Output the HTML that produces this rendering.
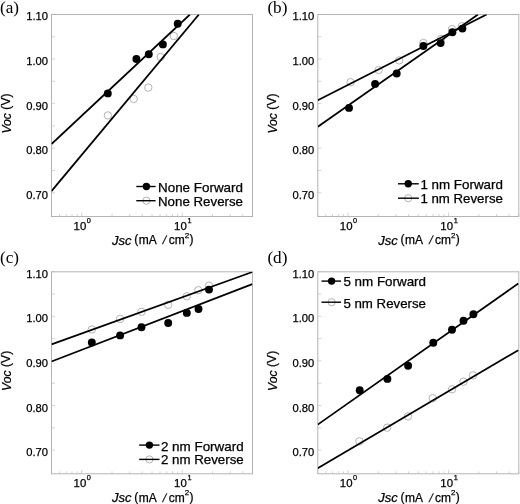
<!DOCTYPE html><html><head><meta charset="utf-8"><style>html,body{margin:0;padding:0;background:#fff;}svg{display:block;}</style></head><body>
<svg width="520" height="504" viewBox="0 0 520 504">
<rect width="520" height="504" fill="#fff"/>
<g transform="translate(0,0)">
<line x1="51.5" y1="192.8" x2="55" y2="192.8" stroke="#d4d4d4" stroke-width="1"/>
<line x1="51.5" y1="170.5" x2="55" y2="170.5" stroke="#d4d4d4" stroke-width="1"/>
<line x1="51.5" y1="148.2" x2="55" y2="148.2" stroke="#d4d4d4" stroke-width="1"/>
<line x1="51.5" y1="125.9" x2="55" y2="125.9" stroke="#d4d4d4" stroke-width="1"/>
<line x1="51.5" y1="103.6" x2="55" y2="103.6" stroke="#d4d4d4" stroke-width="1"/>
<line x1="51.5" y1="81.3" x2="55" y2="81.3" stroke="#d4d4d4" stroke-width="1"/>
<line x1="51.5" y1="59" x2="55" y2="59" stroke="#d4d4d4" stroke-width="1"/>
<line x1="51.5" y1="36.7" x2="55" y2="36.7" stroke="#d4d4d4" stroke-width="1"/>
<line x1="51.5" y1="14.4" x2="55" y2="14.4" stroke="#d4d4d4" stroke-width="1"/>
<line x1="51.5" y1="216.5" x2="51.5" y2="214" stroke="#d4d4d4" stroke-width="1"/>
<line x1="59.46" y1="216.5" x2="59.46" y2="214" stroke="#d4d4d4" stroke-width="1"/>
<line x1="66.19" y1="216.5" x2="66.19" y2="214" stroke="#d4d4d4" stroke-width="1"/>
<line x1="72.01" y1="216.5" x2="72.01" y2="214" stroke="#d4d4d4" stroke-width="1"/>
<line x1="77.15" y1="216.5" x2="77.15" y2="214" stroke="#d4d4d4" stroke-width="1"/>
<line x1="81.75" y1="216.5" x2="81.75" y2="212.5" stroke="#d4d4d4" stroke-width="1"/>
<line x1="112.01" y1="216.5" x2="112.01" y2="214" stroke="#d4d4d4" stroke-width="1"/>
<line x1="129.7" y1="216.5" x2="129.7" y2="214" stroke="#d4d4d4" stroke-width="1"/>
<line x1="142.26" y1="216.5" x2="142.26" y2="214" stroke="#d4d4d4" stroke-width="1"/>
<line x1="152" y1="216.5" x2="152" y2="214" stroke="#d4d4d4" stroke-width="1"/>
<line x1="159.96" y1="216.5" x2="159.96" y2="214" stroke="#d4d4d4" stroke-width="1"/>
<line x1="166.69" y1="216.5" x2="166.69" y2="214" stroke="#d4d4d4" stroke-width="1"/>
<line x1="172.51" y1="216.5" x2="172.51" y2="214" stroke="#d4d4d4" stroke-width="1"/>
<line x1="177.65" y1="216.5" x2="177.65" y2="214" stroke="#d4d4d4" stroke-width="1"/>
<line x1="182.25" y1="216.5" x2="182.25" y2="212.5" stroke="#d4d4d4" stroke-width="1"/>
<line x1="212.51" y1="216.5" x2="212.51" y2="214" stroke="#d4d4d4" stroke-width="1"/>
<line x1="230.2" y1="216.5" x2="230.2" y2="214" stroke="#d4d4d4" stroke-width="1"/>
<line x1="242.76" y1="216.5" x2="242.76" y2="214" stroke="#d4d4d4" stroke-width="1"/>
<line x1="252.5" y1="216.5" x2="252.5" y2="214" stroke="#d4d4d4" stroke-width="1"/>
<rect x="51.5" y="14.5" width="201" height="202" fill="none" stroke="#b4b4b4" stroke-width="1"/>
<text x="26.2" y="20.45" font-family="Liberation Sans, Arial, sans-serif" font-size="11.6" textLength="21.8" lengthAdjust="spacingAndGlyphs" fill="#000" stroke="#000" stroke-width="0.25">1.10</text>
<text x="26.2" y="65.05" font-family="Liberation Sans, Arial, sans-serif" font-size="11.6" textLength="21.8" lengthAdjust="spacingAndGlyphs" fill="#000" stroke="#000" stroke-width="0.25">1.00</text>
<text x="26.2" y="109.65" font-family="Liberation Sans, Arial, sans-serif" font-size="11.6" textLength="21.8" lengthAdjust="spacingAndGlyphs" fill="#000" stroke="#000" stroke-width="0.25">0.90</text>
<text x="26.2" y="154.25" font-family="Liberation Sans, Arial, sans-serif" font-size="11.6" textLength="21.8" lengthAdjust="spacingAndGlyphs" fill="#000" stroke="#000" stroke-width="0.25">0.80</text>
<text x="26.2" y="198.85" font-family="Liberation Sans, Arial, sans-serif" font-size="11.6" textLength="21.8" lengthAdjust="spacingAndGlyphs" fill="#000" stroke="#000" stroke-width="0.25">0.70</text>
<text x="73.55" y="229.7" font-family="Liberation Sans, Arial, sans-serif" font-size="11.4" fill="#000" stroke="#000" stroke-width="0.25">10</text>
<text x="86.75" y="223.0" font-family="Liberation Sans, Arial, sans-serif" font-size="7.3" fill="#000" stroke="#000" stroke-width="0.25">0</text>
<text x="174.05" y="229.7" font-family="Liberation Sans, Arial, sans-serif" font-size="11.4" fill="#000" stroke="#000" stroke-width="0.25">10</text>
<text x="187.45" y="223.0" font-family="Liberation Sans, Arial, sans-serif" font-size="7.3" fill="#000" stroke="#000" stroke-width="0.25">1</text>
<text x="111.9" y="244.5" font-family="Liberation Sans, Arial, sans-serif" font-size="12" font-style="italic" textLength="19.5" lengthAdjust="spacingAndGlyphs" fill="#000" stroke="#000" stroke-width="0.25">Jsc</text>
<text x="134.3" y="243.3" font-family="Liberation Sans, Arial, sans-serif" font-size="12" fill="#000" stroke="#000" stroke-width="0.25">(</text>
<text x="138.8" y="244.4" font-family="Liberation Sans, Arial, sans-serif" font-size="12" fill="#000" stroke="#000" stroke-width="0.25">mA</text>
<text transform="translate(162.1,244.4) skewX(-13)" font-family="Liberation Sans, Arial, sans-serif" font-size="12" fill="#000" stroke="#000" stroke-width="0.1">/</text>
<text x="168.7" y="244.4" font-family="Liberation Sans, Arial, sans-serif" font-size="12" fill="#000" stroke="#000" stroke-width="0.25">cm</text>
<text x="184.7" y="238" font-family="Liberation Sans, Arial, sans-serif" font-size="8" fill="#000" stroke="#000" stroke-width="0.25">2</text>
<text x="189.5" y="243.3" font-family="Liberation Sans, Arial, sans-serif" font-size="12" fill="#000" stroke="#000" stroke-width="0.25">)</text>
<text transform="translate(10.8,133.6) rotate(-90)" font-family="Liberation Sans, Arial, sans-serif" font-size="12.2" fill="#000" stroke="#000" stroke-width="0.25"><tspan font-style="italic">Voc</tspan> <tspan dy="-1.1">(V)</tspan></text>
</g>
<text x="0" y="12.5" font-family="Liberation Serif, Times New Roman, serif" font-size="17.2" fill="#000">(a)</text>
<clipPath id="clipa"><rect x="51.5" y="14.5" width="201" height="202"/></clipPath>
<g clip-path="url(#clipa)">
<circle cx="107.9" cy="115.4" r="3.7" fill="none" stroke="#b4b4b4" stroke-width="1"/>
<circle cx="133.7" cy="98.9" r="3.7" fill="none" stroke="#b4b4b4" stroke-width="1"/>
<circle cx="148.3" cy="87.6" r="3.7" fill="none" stroke="#b4b4b4" stroke-width="1"/>
<circle cx="160.7" cy="57" r="3.7" fill="none" stroke="#b4b4b4" stroke-width="1"/>
<circle cx="173.8" cy="36" r="3.7" fill="none" stroke="#b4b4b4" stroke-width="1"/>
<line x1="51.5" y1="144.1" x2="189.9" y2="14.5" stroke="#000" stroke-width="1.75"/>
<line x1="51.5" y1="191.1" x2="198.9" y2="14.5" stroke="#000" stroke-width="1.75"/>
<circle cx="107.8" cy="93.4" r="3.95" fill="#000"/>
<circle cx="136.4" cy="59" r="3.95" fill="#000"/>
<circle cx="148.8" cy="54.3" r="3.95" fill="#000"/>
<circle cx="162.9" cy="44.4" r="3.95" fill="#000"/>
<circle cx="177.7" cy="23.7" r="3.95" fill="#000"/>
</g>
<line x1="136.3" y1="186.5" x2="155.6" y2="186.5" stroke="#000" stroke-width="1.4"/>
<circle cx="146.4" cy="186.5" r="3.7" fill="#000"/>
<circle cx="146.4" cy="200.7" r="3.6" fill="none" stroke="#b4b4b4" stroke-width="1"/>
<line x1="136.3" y1="200.7" x2="155.6" y2="200.7" stroke="#000" stroke-width="1.4"/>
<text x="158" y="191.8" font-family="Liberation Sans, Arial, sans-serif" font-size="12.4" textLength="85" lengthAdjust="spacingAndGlyphs" fill="#000" stroke="#000" stroke-width="0.25">None Forward</text>
<text x="158" y="206.1" font-family="Liberation Sans, Arial, sans-serif" font-size="12.4" textLength="85" lengthAdjust="spacingAndGlyphs" fill="#000" stroke="#000" stroke-width="0.25">None Reverse</text>
<g transform="translate(266.3,0)">
<line x1="51.5" y1="192.8" x2="55" y2="192.8" stroke="#d4d4d4" stroke-width="1"/>
<line x1="51.5" y1="170.5" x2="55" y2="170.5" stroke="#d4d4d4" stroke-width="1"/>
<line x1="51.5" y1="148.2" x2="55" y2="148.2" stroke="#d4d4d4" stroke-width="1"/>
<line x1="51.5" y1="125.9" x2="55" y2="125.9" stroke="#d4d4d4" stroke-width="1"/>
<line x1="51.5" y1="103.6" x2="55" y2="103.6" stroke="#d4d4d4" stroke-width="1"/>
<line x1="51.5" y1="81.3" x2="55" y2="81.3" stroke="#d4d4d4" stroke-width="1"/>
<line x1="51.5" y1="59" x2="55" y2="59" stroke="#d4d4d4" stroke-width="1"/>
<line x1="51.5" y1="36.7" x2="55" y2="36.7" stroke="#d4d4d4" stroke-width="1"/>
<line x1="51.5" y1="14.4" x2="55" y2="14.4" stroke="#d4d4d4" stroke-width="1"/>
<line x1="51.5" y1="216.5" x2="51.5" y2="214" stroke="#d4d4d4" stroke-width="1"/>
<line x1="59.46" y1="216.5" x2="59.46" y2="214" stroke="#d4d4d4" stroke-width="1"/>
<line x1="66.19" y1="216.5" x2="66.19" y2="214" stroke="#d4d4d4" stroke-width="1"/>
<line x1="72.01" y1="216.5" x2="72.01" y2="214" stroke="#d4d4d4" stroke-width="1"/>
<line x1="77.15" y1="216.5" x2="77.15" y2="214" stroke="#d4d4d4" stroke-width="1"/>
<line x1="81.75" y1="216.5" x2="81.75" y2="212.5" stroke="#d4d4d4" stroke-width="1"/>
<line x1="112.01" y1="216.5" x2="112.01" y2="214" stroke="#d4d4d4" stroke-width="1"/>
<line x1="129.7" y1="216.5" x2="129.7" y2="214" stroke="#d4d4d4" stroke-width="1"/>
<line x1="142.26" y1="216.5" x2="142.26" y2="214" stroke="#d4d4d4" stroke-width="1"/>
<line x1="152" y1="216.5" x2="152" y2="214" stroke="#d4d4d4" stroke-width="1"/>
<line x1="159.96" y1="216.5" x2="159.96" y2="214" stroke="#d4d4d4" stroke-width="1"/>
<line x1="166.69" y1="216.5" x2="166.69" y2="214" stroke="#d4d4d4" stroke-width="1"/>
<line x1="172.51" y1="216.5" x2="172.51" y2="214" stroke="#d4d4d4" stroke-width="1"/>
<line x1="177.65" y1="216.5" x2="177.65" y2="214" stroke="#d4d4d4" stroke-width="1"/>
<line x1="182.25" y1="216.5" x2="182.25" y2="212.5" stroke="#d4d4d4" stroke-width="1"/>
<line x1="212.51" y1="216.5" x2="212.51" y2="214" stroke="#d4d4d4" stroke-width="1"/>
<line x1="230.2" y1="216.5" x2="230.2" y2="214" stroke="#d4d4d4" stroke-width="1"/>
<line x1="242.76" y1="216.5" x2="242.76" y2="214" stroke="#d4d4d4" stroke-width="1"/>
<line x1="252.5" y1="216.5" x2="252.5" y2="214" stroke="#d4d4d4" stroke-width="1"/>
<rect x="51.5" y="14.5" width="201" height="202" fill="none" stroke="#b4b4b4" stroke-width="1"/>
<text x="26.2" y="20.45" font-family="Liberation Sans, Arial, sans-serif" font-size="11.6" textLength="21.8" lengthAdjust="spacingAndGlyphs" fill="#000" stroke="#000" stroke-width="0.25">1.10</text>
<text x="26.2" y="65.05" font-family="Liberation Sans, Arial, sans-serif" font-size="11.6" textLength="21.8" lengthAdjust="spacingAndGlyphs" fill="#000" stroke="#000" stroke-width="0.25">1.00</text>
<text x="26.2" y="109.65" font-family="Liberation Sans, Arial, sans-serif" font-size="11.6" textLength="21.8" lengthAdjust="spacingAndGlyphs" fill="#000" stroke="#000" stroke-width="0.25">0.90</text>
<text x="26.2" y="154.25" font-family="Liberation Sans, Arial, sans-serif" font-size="11.6" textLength="21.8" lengthAdjust="spacingAndGlyphs" fill="#000" stroke="#000" stroke-width="0.25">0.80</text>
<text x="26.2" y="198.85" font-family="Liberation Sans, Arial, sans-serif" font-size="11.6" textLength="21.8" lengthAdjust="spacingAndGlyphs" fill="#000" stroke="#000" stroke-width="0.25">0.70</text>
<text x="73.55" y="229.7" font-family="Liberation Sans, Arial, sans-serif" font-size="11.4" fill="#000" stroke="#000" stroke-width="0.25">10</text>
<text x="86.75" y="223.0" font-family="Liberation Sans, Arial, sans-serif" font-size="7.3" fill="#000" stroke="#000" stroke-width="0.25">0</text>
<text x="174.05" y="229.7" font-family="Liberation Sans, Arial, sans-serif" font-size="11.4" fill="#000" stroke="#000" stroke-width="0.25">10</text>
<text x="187.45" y="223.0" font-family="Liberation Sans, Arial, sans-serif" font-size="7.3" fill="#000" stroke="#000" stroke-width="0.25">1</text>
<text x="111.9" y="244.5" font-family="Liberation Sans, Arial, sans-serif" font-size="12" font-style="italic" textLength="19.5" lengthAdjust="spacingAndGlyphs" fill="#000" stroke="#000" stroke-width="0.25">Jsc</text>
<text x="134.3" y="243.3" font-family="Liberation Sans, Arial, sans-serif" font-size="12" fill="#000" stroke="#000" stroke-width="0.25">(</text>
<text x="138.8" y="244.4" font-family="Liberation Sans, Arial, sans-serif" font-size="12" fill="#000" stroke="#000" stroke-width="0.25">mA</text>
<text transform="translate(162.1,244.4) skewX(-13)" font-family="Liberation Sans, Arial, sans-serif" font-size="12" fill="#000" stroke="#000" stroke-width="0.1">/</text>
<text x="168.7" y="244.4" font-family="Liberation Sans, Arial, sans-serif" font-size="12" fill="#000" stroke="#000" stroke-width="0.25">cm</text>
<text x="184.7" y="238" font-family="Liberation Sans, Arial, sans-serif" font-size="8" fill="#000" stroke="#000" stroke-width="0.25">2</text>
<text x="189.5" y="243.3" font-family="Liberation Sans, Arial, sans-serif" font-size="12" fill="#000" stroke="#000" stroke-width="0.25">)</text>
<text transform="translate(10.8,133.6) rotate(-90)" font-family="Liberation Sans, Arial, sans-serif" font-size="12.2" fill="#000" stroke="#000" stroke-width="0.25"><tspan font-style="italic">Voc</tspan> <tspan dy="-1.1">(V)</tspan></text>
</g>
<text x="267.4" y="12.5" font-family="Liberation Serif, Times New Roman, serif" font-size="17.2" fill="#000">(b)</text>
<clipPath id="clipb"><rect x="317.8" y="14.5" width="201" height="202"/></clipPath>
<g clip-path="url(#clipb)">
<circle cx="350.6" cy="82.2" r="3.7" fill="none" stroke="#b4b4b4" stroke-width="1"/>
<circle cx="378.6" cy="70" r="3.7" fill="none" stroke="#b4b4b4" stroke-width="1"/>
<circle cx="399.2" cy="60.4" r="3.7" fill="none" stroke="#b4b4b4" stroke-width="1"/>
<circle cx="423.4" cy="43" r="3.7" fill="none" stroke="#b4b4b4" stroke-width="1"/>
<circle cx="441" cy="39" r="3.7" fill="none" stroke="#b4b4b4" stroke-width="1"/>
<circle cx="452" cy="29.1" r="3.7" fill="none" stroke="#b4b4b4" stroke-width="1"/>
<circle cx="461.8" cy="26.2" r="3.7" fill="none" stroke="#b4b4b4" stroke-width="1"/>
<line x1="317.8" y1="126.8" x2="478" y2="14.5" stroke="#000" stroke-width="1.75"/>
<line x1="317.8" y1="100.2" x2="486.6" y2="14.5" stroke="#000" stroke-width="1.75"/>
<circle cx="349" cy="107.9" r="3.95" fill="#000"/>
<circle cx="375.1" cy="83.9" r="3.95" fill="#000"/>
<circle cx="396.7" cy="73.5" r="3.95" fill="#000"/>
<circle cx="423.4" cy="46" r="3.95" fill="#000"/>
<circle cx="440.6" cy="43.1" r="3.95" fill="#000"/>
<circle cx="452.4" cy="32.2" r="3.95" fill="#000"/>
<circle cx="462.4" cy="28.6" r="3.95" fill="#000"/>
</g>
<line x1="398" y1="183.8" x2="418.8" y2="183.8" stroke="#000" stroke-width="1.4"/>
<circle cx="408.2" cy="183.8" r="3.7" fill="#000"/>
<circle cx="408.2" cy="198.2" r="3.6" fill="none" stroke="#b4b4b4" stroke-width="1"/>
<line x1="398" y1="198.2" x2="418.8" y2="198.2" stroke="#000" stroke-width="1.4"/>
<text x="420.4" y="189.3" font-family="Liberation Sans, Arial, sans-serif" font-size="12.4" textLength="82.5" lengthAdjust="spacingAndGlyphs" fill="#000" stroke="#000" stroke-width="0.25">1 nm Forward</text>
<text x="420.4" y="202.7" font-family="Liberation Sans, Arial, sans-serif" font-size="12.4" textLength="82.5" lengthAdjust="spacingAndGlyphs" fill="#000" stroke="#000" stroke-width="0.25">1 nm Reverse</text>
<g transform="translate(0,257.3)">
<line x1="51.5" y1="192.8" x2="55" y2="192.8" stroke="#d4d4d4" stroke-width="1"/>
<line x1="51.5" y1="170.5" x2="55" y2="170.5" stroke="#d4d4d4" stroke-width="1"/>
<line x1="51.5" y1="148.2" x2="55" y2="148.2" stroke="#d4d4d4" stroke-width="1"/>
<line x1="51.5" y1="125.9" x2="55" y2="125.9" stroke="#d4d4d4" stroke-width="1"/>
<line x1="51.5" y1="103.6" x2="55" y2="103.6" stroke="#d4d4d4" stroke-width="1"/>
<line x1="51.5" y1="81.3" x2="55" y2="81.3" stroke="#d4d4d4" stroke-width="1"/>
<line x1="51.5" y1="59" x2="55" y2="59" stroke="#d4d4d4" stroke-width="1"/>
<line x1="51.5" y1="36.7" x2="55" y2="36.7" stroke="#d4d4d4" stroke-width="1"/>
<line x1="51.5" y1="14.4" x2="55" y2="14.4" stroke="#d4d4d4" stroke-width="1"/>
<line x1="51.5" y1="216.5" x2="51.5" y2="214" stroke="#d4d4d4" stroke-width="1"/>
<line x1="59.46" y1="216.5" x2="59.46" y2="214" stroke="#d4d4d4" stroke-width="1"/>
<line x1="66.19" y1="216.5" x2="66.19" y2="214" stroke="#d4d4d4" stroke-width="1"/>
<line x1="72.01" y1="216.5" x2="72.01" y2="214" stroke="#d4d4d4" stroke-width="1"/>
<line x1="77.15" y1="216.5" x2="77.15" y2="214" stroke="#d4d4d4" stroke-width="1"/>
<line x1="81.75" y1="216.5" x2="81.75" y2="212.5" stroke="#d4d4d4" stroke-width="1"/>
<line x1="112.01" y1="216.5" x2="112.01" y2="214" stroke="#d4d4d4" stroke-width="1"/>
<line x1="129.7" y1="216.5" x2="129.7" y2="214" stroke="#d4d4d4" stroke-width="1"/>
<line x1="142.26" y1="216.5" x2="142.26" y2="214" stroke="#d4d4d4" stroke-width="1"/>
<line x1="152" y1="216.5" x2="152" y2="214" stroke="#d4d4d4" stroke-width="1"/>
<line x1="159.96" y1="216.5" x2="159.96" y2="214" stroke="#d4d4d4" stroke-width="1"/>
<line x1="166.69" y1="216.5" x2="166.69" y2="214" stroke="#d4d4d4" stroke-width="1"/>
<line x1="172.51" y1="216.5" x2="172.51" y2="214" stroke="#d4d4d4" stroke-width="1"/>
<line x1="177.65" y1="216.5" x2="177.65" y2="214" stroke="#d4d4d4" stroke-width="1"/>
<line x1="182.25" y1="216.5" x2="182.25" y2="212.5" stroke="#d4d4d4" stroke-width="1"/>
<line x1="212.51" y1="216.5" x2="212.51" y2="214" stroke="#d4d4d4" stroke-width="1"/>
<line x1="230.2" y1="216.5" x2="230.2" y2="214" stroke="#d4d4d4" stroke-width="1"/>
<line x1="242.76" y1="216.5" x2="242.76" y2="214" stroke="#d4d4d4" stroke-width="1"/>
<line x1="252.5" y1="216.5" x2="252.5" y2="214" stroke="#d4d4d4" stroke-width="1"/>
<rect x="51.5" y="14.5" width="201" height="202" fill="none" stroke="#b4b4b4" stroke-width="1"/>
<text x="26.2" y="20.45" font-family="Liberation Sans, Arial, sans-serif" font-size="11.6" textLength="21.8" lengthAdjust="spacingAndGlyphs" fill="#000" stroke="#000" stroke-width="0.25">1.10</text>
<text x="26.2" y="65.05" font-family="Liberation Sans, Arial, sans-serif" font-size="11.6" textLength="21.8" lengthAdjust="spacingAndGlyphs" fill="#000" stroke="#000" stroke-width="0.25">1.00</text>
<text x="26.2" y="109.65" font-family="Liberation Sans, Arial, sans-serif" font-size="11.6" textLength="21.8" lengthAdjust="spacingAndGlyphs" fill="#000" stroke="#000" stroke-width="0.25">0.90</text>
<text x="26.2" y="154.25" font-family="Liberation Sans, Arial, sans-serif" font-size="11.6" textLength="21.8" lengthAdjust="spacingAndGlyphs" fill="#000" stroke="#000" stroke-width="0.25">0.80</text>
<text x="26.2" y="198.85" font-family="Liberation Sans, Arial, sans-serif" font-size="11.6" textLength="21.8" lengthAdjust="spacingAndGlyphs" fill="#000" stroke="#000" stroke-width="0.25">0.70</text>
<text x="73.55" y="229.7" font-family="Liberation Sans, Arial, sans-serif" font-size="11.4" fill="#000" stroke="#000" stroke-width="0.25">10</text>
<text x="86.75" y="223.0" font-family="Liberation Sans, Arial, sans-serif" font-size="7.3" fill="#000" stroke="#000" stroke-width="0.25">0</text>
<text x="174.05" y="229.7" font-family="Liberation Sans, Arial, sans-serif" font-size="11.4" fill="#000" stroke="#000" stroke-width="0.25">10</text>
<text x="187.45" y="223.0" font-family="Liberation Sans, Arial, sans-serif" font-size="7.3" fill="#000" stroke="#000" stroke-width="0.25">1</text>
<text x="111.9" y="244.5" font-family="Liberation Sans, Arial, sans-serif" font-size="12" font-style="italic" textLength="19.5" lengthAdjust="spacingAndGlyphs" fill="#000" stroke="#000" stroke-width="0.25">Jsc</text>
<text x="134.3" y="243.3" font-family="Liberation Sans, Arial, sans-serif" font-size="12" fill="#000" stroke="#000" stroke-width="0.25">(</text>
<text x="138.8" y="244.4" font-family="Liberation Sans, Arial, sans-serif" font-size="12" fill="#000" stroke="#000" stroke-width="0.25">mA</text>
<text transform="translate(162.1,244.4) skewX(-13)" font-family="Liberation Sans, Arial, sans-serif" font-size="12" fill="#000" stroke="#000" stroke-width="0.1">/</text>
<text x="168.7" y="244.4" font-family="Liberation Sans, Arial, sans-serif" font-size="12" fill="#000" stroke="#000" stroke-width="0.25">cm</text>
<text x="184.7" y="238" font-family="Liberation Sans, Arial, sans-serif" font-size="8" fill="#000" stroke="#000" stroke-width="0.25">2</text>
<text x="189.5" y="243.3" font-family="Liberation Sans, Arial, sans-serif" font-size="12" fill="#000" stroke="#000" stroke-width="0.25">)</text>
<text transform="translate(10.8,133.6) rotate(-90)" font-family="Liberation Sans, Arial, sans-serif" font-size="12.2" fill="#000" stroke="#000" stroke-width="0.25"><tspan font-style="italic">Voc</tspan> <tspan dy="-1.1">(V)</tspan></text>
</g>
<text x="0" y="263.1" font-family="Liberation Serif, Times New Roman, serif" font-size="17.2" fill="#000">(c)</text>
<clipPath id="clipc"><rect x="51.5" y="271.8" width="201" height="202"/></clipPath>
<g clip-path="url(#clipc)">
<circle cx="91.8" cy="329.5" r="3.7" fill="none" stroke="#b4b4b4" stroke-width="1"/>
<circle cx="120.1" cy="318.9" r="3.7" fill="none" stroke="#b4b4b4" stroke-width="1"/>
<circle cx="141.5" cy="311.8" r="3.7" fill="none" stroke="#b4b4b4" stroke-width="1"/>
<circle cx="168.2" cy="304.8" r="3.7" fill="none" stroke="#b4b4b4" stroke-width="1"/>
<circle cx="186.8" cy="296.3" r="3.7" fill="none" stroke="#b4b4b4" stroke-width="1"/>
<circle cx="198.3" cy="290.2" r="3.7" fill="none" stroke="#b4b4b4" stroke-width="1"/>
<circle cx="209" cy="285.6" r="3.7" fill="none" stroke="#b4b4b4" stroke-width="1"/>
<line x1="51.5" y1="344.4" x2="252.3" y2="272" stroke="#000" stroke-width="1.75"/>
<line x1="51.5" y1="361.5" x2="252.3" y2="284.1" stroke="#000" stroke-width="1.75"/>
<circle cx="91.8" cy="342.4" r="3.95" fill="#000"/>
<circle cx="120.1" cy="335.4" r="3.95" fill="#000"/>
<circle cx="141.5" cy="327.2" r="3.95" fill="#000"/>
<circle cx="168.2" cy="323" r="3.95" fill="#000"/>
<circle cx="186.8" cy="312.9" r="3.95" fill="#000"/>
<circle cx="198.5" cy="309" r="3.95" fill="#000"/>
<circle cx="209" cy="289.6" r="3.95" fill="#000"/>
</g>
<line x1="139.2" y1="445.1" x2="159.5" y2="445.1" stroke="#000" stroke-width="1.4"/>
<circle cx="149.4" cy="445.1" r="3.7" fill="#000"/>
<circle cx="149.4" cy="459.4" r="3.6" fill="none" stroke="#b4b4b4" stroke-width="1"/>
<line x1="139.2" y1="459.4" x2="159.5" y2="459.4" stroke="#000" stroke-width="1.4"/>
<text x="160.9" y="450.8" font-family="Liberation Sans, Arial, sans-serif" font-size="12.4" textLength="82.8" lengthAdjust="spacingAndGlyphs" fill="#000" stroke="#000" stroke-width="0.25">2 nm Forward</text>
<text x="160.9" y="464.4" font-family="Liberation Sans, Arial, sans-serif" font-size="12.4" textLength="82.8" lengthAdjust="spacingAndGlyphs" fill="#000" stroke="#000" stroke-width="0.25">2 nm Reverse</text>
<g transform="translate(266.3,257.3)">
<line x1="51.5" y1="192.8" x2="55" y2="192.8" stroke="#d4d4d4" stroke-width="1"/>
<line x1="51.5" y1="170.5" x2="55" y2="170.5" stroke="#d4d4d4" stroke-width="1"/>
<line x1="51.5" y1="148.2" x2="55" y2="148.2" stroke="#d4d4d4" stroke-width="1"/>
<line x1="51.5" y1="125.9" x2="55" y2="125.9" stroke="#d4d4d4" stroke-width="1"/>
<line x1="51.5" y1="103.6" x2="55" y2="103.6" stroke="#d4d4d4" stroke-width="1"/>
<line x1="51.5" y1="81.3" x2="55" y2="81.3" stroke="#d4d4d4" stroke-width="1"/>
<line x1="51.5" y1="59" x2="55" y2="59" stroke="#d4d4d4" stroke-width="1"/>
<line x1="51.5" y1="36.7" x2="55" y2="36.7" stroke="#d4d4d4" stroke-width="1"/>
<line x1="51.5" y1="14.4" x2="55" y2="14.4" stroke="#d4d4d4" stroke-width="1"/>
<line x1="51.5" y1="216.5" x2="51.5" y2="214" stroke="#d4d4d4" stroke-width="1"/>
<line x1="59.46" y1="216.5" x2="59.46" y2="214" stroke="#d4d4d4" stroke-width="1"/>
<line x1="66.19" y1="216.5" x2="66.19" y2="214" stroke="#d4d4d4" stroke-width="1"/>
<line x1="72.01" y1="216.5" x2="72.01" y2="214" stroke="#d4d4d4" stroke-width="1"/>
<line x1="77.15" y1="216.5" x2="77.15" y2="214" stroke="#d4d4d4" stroke-width="1"/>
<line x1="81.75" y1="216.5" x2="81.75" y2="212.5" stroke="#d4d4d4" stroke-width="1"/>
<line x1="112.01" y1="216.5" x2="112.01" y2="214" stroke="#d4d4d4" stroke-width="1"/>
<line x1="129.7" y1="216.5" x2="129.7" y2="214" stroke="#d4d4d4" stroke-width="1"/>
<line x1="142.26" y1="216.5" x2="142.26" y2="214" stroke="#d4d4d4" stroke-width="1"/>
<line x1="152" y1="216.5" x2="152" y2="214" stroke="#d4d4d4" stroke-width="1"/>
<line x1="159.96" y1="216.5" x2="159.96" y2="214" stroke="#d4d4d4" stroke-width="1"/>
<line x1="166.69" y1="216.5" x2="166.69" y2="214" stroke="#d4d4d4" stroke-width="1"/>
<line x1="172.51" y1="216.5" x2="172.51" y2="214" stroke="#d4d4d4" stroke-width="1"/>
<line x1="177.65" y1="216.5" x2="177.65" y2="214" stroke="#d4d4d4" stroke-width="1"/>
<line x1="182.25" y1="216.5" x2="182.25" y2="212.5" stroke="#d4d4d4" stroke-width="1"/>
<line x1="212.51" y1="216.5" x2="212.51" y2="214" stroke="#d4d4d4" stroke-width="1"/>
<line x1="230.2" y1="216.5" x2="230.2" y2="214" stroke="#d4d4d4" stroke-width="1"/>
<line x1="242.76" y1="216.5" x2="242.76" y2="214" stroke="#d4d4d4" stroke-width="1"/>
<line x1="252.5" y1="216.5" x2="252.5" y2="214" stroke="#d4d4d4" stroke-width="1"/>
<rect x="51.5" y="14.5" width="201" height="202" fill="none" stroke="#b4b4b4" stroke-width="1"/>
<text x="26.2" y="20.45" font-family="Liberation Sans, Arial, sans-serif" font-size="11.6" textLength="21.8" lengthAdjust="spacingAndGlyphs" fill="#000" stroke="#000" stroke-width="0.25">1.10</text>
<text x="26.2" y="65.05" font-family="Liberation Sans, Arial, sans-serif" font-size="11.6" textLength="21.8" lengthAdjust="spacingAndGlyphs" fill="#000" stroke="#000" stroke-width="0.25">1.00</text>
<text x="26.2" y="109.65" font-family="Liberation Sans, Arial, sans-serif" font-size="11.6" textLength="21.8" lengthAdjust="spacingAndGlyphs" fill="#000" stroke="#000" stroke-width="0.25">0.90</text>
<text x="26.2" y="154.25" font-family="Liberation Sans, Arial, sans-serif" font-size="11.6" textLength="21.8" lengthAdjust="spacingAndGlyphs" fill="#000" stroke="#000" stroke-width="0.25">0.80</text>
<text x="26.2" y="198.85" font-family="Liberation Sans, Arial, sans-serif" font-size="11.6" textLength="21.8" lengthAdjust="spacingAndGlyphs" fill="#000" stroke="#000" stroke-width="0.25">0.70</text>
<text x="73.55" y="229.7" font-family="Liberation Sans, Arial, sans-serif" font-size="11.4" fill="#000" stroke="#000" stroke-width="0.25">10</text>
<text x="86.75" y="223.0" font-family="Liberation Sans, Arial, sans-serif" font-size="7.3" fill="#000" stroke="#000" stroke-width="0.25">0</text>
<text x="174.05" y="229.7" font-family="Liberation Sans, Arial, sans-serif" font-size="11.4" fill="#000" stroke="#000" stroke-width="0.25">10</text>
<text x="187.45" y="223.0" font-family="Liberation Sans, Arial, sans-serif" font-size="7.3" fill="#000" stroke="#000" stroke-width="0.25">1</text>
<text x="111.9" y="244.5" font-family="Liberation Sans, Arial, sans-serif" font-size="12" font-style="italic" textLength="19.5" lengthAdjust="spacingAndGlyphs" fill="#000" stroke="#000" stroke-width="0.25">Jsc</text>
<text x="134.3" y="243.3" font-family="Liberation Sans, Arial, sans-serif" font-size="12" fill="#000" stroke="#000" stroke-width="0.25">(</text>
<text x="138.8" y="244.4" font-family="Liberation Sans, Arial, sans-serif" font-size="12" fill="#000" stroke="#000" stroke-width="0.25">mA</text>
<text transform="translate(162.1,244.4) skewX(-13)" font-family="Liberation Sans, Arial, sans-serif" font-size="12" fill="#000" stroke="#000" stroke-width="0.1">/</text>
<text x="168.7" y="244.4" font-family="Liberation Sans, Arial, sans-serif" font-size="12" fill="#000" stroke="#000" stroke-width="0.25">cm</text>
<text x="184.7" y="238" font-family="Liberation Sans, Arial, sans-serif" font-size="8" fill="#000" stroke="#000" stroke-width="0.25">2</text>
<text x="189.5" y="243.3" font-family="Liberation Sans, Arial, sans-serif" font-size="12" fill="#000" stroke="#000" stroke-width="0.25">)</text>
<text transform="translate(10.8,133.6) rotate(-90)" font-family="Liberation Sans, Arial, sans-serif" font-size="12.2" fill="#000" stroke="#000" stroke-width="0.25"><tspan font-style="italic">Voc</tspan> <tspan dy="-1.1">(V)</tspan></text>
</g>
<text x="267.4" y="263.1" font-family="Liberation Serif, Times New Roman, serif" font-size="17.2" fill="#000">(d)</text>
<clipPath id="clipd"><rect x="317.8" y="271.8" width="201" height="202"/></clipPath>
<g clip-path="url(#clipd)">
<circle cx="359.4" cy="441.3" r="3.7" fill="none" stroke="#b4b4b4" stroke-width="1"/>
<circle cx="387.2" cy="427.6" r="3.7" fill="none" stroke="#b4b4b4" stroke-width="1"/>
<circle cx="408" cy="416.4" r="3.7" fill="none" stroke="#b4b4b4" stroke-width="1"/>
<circle cx="432.7" cy="398.2" r="3.7" fill="none" stroke="#b4b4b4" stroke-width="1"/>
<circle cx="452" cy="389.3" r="3.7" fill="none" stroke="#b4b4b4" stroke-width="1"/>
<circle cx="463.5" cy="381.7" r="3.7" fill="none" stroke="#b4b4b4" stroke-width="1"/>
<circle cx="473" cy="375.4" r="3.7" fill="none" stroke="#b4b4b4" stroke-width="1"/>
<line x1="317.7" y1="424.6" x2="518.3" y2="283.5" stroke="#000" stroke-width="1.75"/>
<line x1="317.7" y1="468.2" x2="518.3" y2="350.2" stroke="#000" stroke-width="1.75"/>
<circle cx="359.7" cy="390.3" r="3.95" fill="#000"/>
<circle cx="387.4" cy="378.9" r="3.95" fill="#000"/>
<circle cx="408.1" cy="365.7" r="3.95" fill="#000"/>
<circle cx="433.3" cy="342.7" r="3.95" fill="#000"/>
<circle cx="452" cy="329.8" r="3.95" fill="#000"/>
<circle cx="463.5" cy="320.8" r="3.95" fill="#000"/>
<circle cx="473.4" cy="314.3" r="3.95" fill="#000"/>
</g>
<line x1="321.5" y1="281.1" x2="341" y2="281.1" stroke="#000" stroke-width="1.4"/>
<circle cx="331.6" cy="281.1" r="3.7" fill="#000"/>
<circle cx="331.6" cy="302.2" r="3.6" fill="none" stroke="#b4b4b4" stroke-width="1"/>
<line x1="321.5" y1="302.2" x2="341" y2="302.2" stroke="#000" stroke-width="1.4"/>
<text x="343.4" y="286" font-family="Liberation Sans, Arial, sans-serif" font-size="12.4" textLength="82.6" lengthAdjust="spacingAndGlyphs" fill="#000" stroke="#000" stroke-width="0.25">5 nm Forward</text>
<text x="343.4" y="307.6" font-family="Liberation Sans, Arial, sans-serif" font-size="12.4" textLength="82.6" lengthAdjust="spacingAndGlyphs" fill="#000" stroke="#000" stroke-width="0.25">5 nm Reverse</text>
</svg></body></html>
